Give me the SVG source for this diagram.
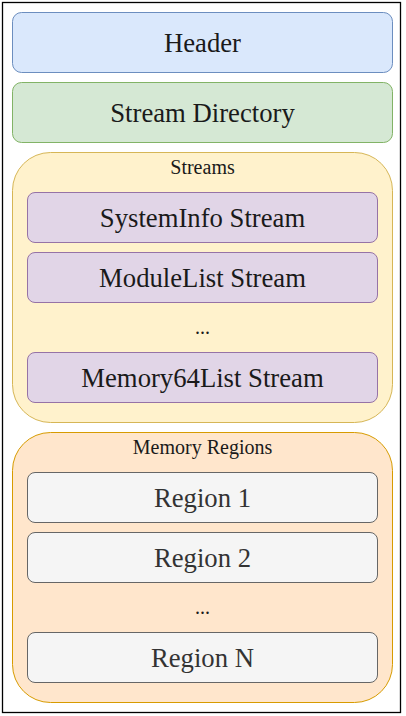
<svg xmlns="http://www.w3.org/2000/svg" width="406" height="716" viewBox="0 0 406 716">
<style>
text{font-family:"Liberation Serif","Times New Roman",serif;text-anchor:middle}
.big{font-size:26.7px}
.small{font-size:20px}
.blue{fill:#dae8fc;stroke:#6c8ebf}
.green{fill:#d5e8d4;stroke:#82b366}
.yellow{fill:#fff2cc;stroke:#d6b656}
.purple{fill:#e1d5e7;stroke:#9673a6}
.orange{fill:#ffe6cc;stroke:#d79b00}
.gray{fill:#f5f5f5;stroke:#666666}
.dark{fill:#1a1a1a}
.grey{fill:#333333}
</style>
<rect x="0" y="0" width="406" height="716" fill="#ffffff"/>
<rect id="frame" x="2.5" y="2.5" width="398" height="710" fill="none" stroke="#000000" stroke-width="1.3"/>
<g id="header">
<rect class="blue" x="12.5" y="12.5" width="380" height="60" rx="9"/>
<text class="big dark" x="202.5" y="51.5">Header</text>
</g>
<g id="stream-directory">
<rect class="green" x="12.5" y="82.5" width="380" height="60" rx="9"/>
<text class="big dark" x="202.5" y="121.5">Stream Directory</text>
</g>
<g id="streams">
<rect class="yellow" x="12.5" y="152.5" width="380" height="270" rx="38"/>
<text class="small dark" x="202.5" y="173.5">Streams</text>
</g>
<g id="systeminfo-stream">
<rect class="purple" x="27.5" y="192.5" width="350" height="50" rx="7.5"/>
<text class="big dark" x="202.5" y="226.5">SystemInfo Stream</text>
</g>
<g id="modulelist-stream">
<rect class="purple" x="27.5" y="252.5" width="350" height="50" rx="7.5"/>
<text class="big dark" x="202.5" y="286.5">ModuleList Stream</text>
</g>
<g id="streams-ellipsis">
<text class="small dark" x="202.5" y="334">...</text>
</g>
<g id="memory64list-stream">
<rect class="purple" x="27.5" y="352.5" width="350" height="50" rx="7.5"/>
<text class="big dark" x="202.5" y="386.5">Memory64List Stream</text>
</g>
<g id="memory-regions">
<rect class="orange" x="12.5" y="432.5" width="380" height="270" rx="38"/>
<text class="small dark" x="202.5" y="453.5">Memory Regions</text>
</g>
<g id="region-1">
<rect class="gray" x="27.5" y="472.5" width="350" height="50" rx="7.5"/>
<text class="big grey" x="202.5" y="506.5">Region 1</text>
</g>
<g id="region-2">
<rect class="gray" x="27.5" y="532.5" width="350" height="50" rx="7.5"/>
<text class="big grey" x="202.5" y="566.5">Region 2</text>
</g>
<g id="regions-ellipsis">
<text class="small dark" x="202.5" y="614">...</text>
</g>
<g id="region-n">
<rect class="gray" x="27.5" y="632.5" width="350" height="50" rx="7.5"/>
<text class="big grey" x="202.5" y="666.5">Region N</text>
</g>
<g id="connectors"></g>
</svg>
